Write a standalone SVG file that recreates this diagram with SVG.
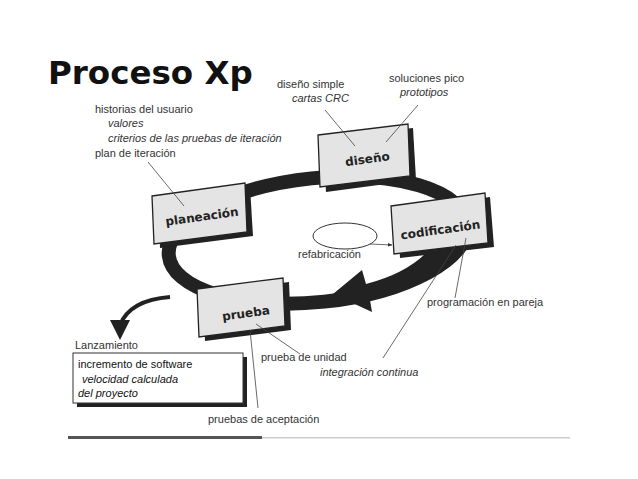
<svg xmlns="http://www.w3.org/2000/svg" width="638" height="479" viewBox="0 0 638 479">
<style>
.t{font-family:"Liberation Sans",Arial,sans-serif;font-size:11px;fill:#333}
.i{font-style:italic}
.n{font-family:"DejaVu Sans",sans-serif;font-size:12px;font-weight:bold;fill:#222}
.box{fill:#e4e4e4;stroke:#222;stroke-width:1.3}
.sh{fill:#222}
.ld{stroke:#444;stroke-width:0.8;fill:none}
</style>
<defs><marker id="a" viewBox="0 0 10 10" refX="9" refY="5" markerWidth="6" markerHeight="6" orient="auto"><path d="M0,1 L10,5 L0,9 z" fill="#333"/></marker></defs>
<rect width="638" height="479" fill="#fff"/>
<text x="48" y="84" style="font-family:'DejaVu Sans',sans-serif;font-size:32.5px;font-weight:bold;fill:#111">Proceso Xp</text>
<g id="cycle">
<ellipse cx="318" cy="240" rx="150" ry="62" fill="none" stroke="#222" stroke-width="14" transform="rotate(-6 318 240)"/>
<path d="M465,240 Q440,280 370,300 L372,312 L333,294 L362,270 L366,284 Q420,270 440,235 Z" fill="#222"/>
<path d="M170,297 Q130,300 120,325" fill="none" stroke="#222" stroke-width="4"/>
<path d="M110,320 L130,320 L120,340 Z" fill="#222"/>
<ellipse cx="345" cy="236" rx="32" ry="13" fill="none" stroke="#333" stroke-width="1"/>
<path d="M370,244 L392,245" class="ld" marker-end="url(#a)"/>
</g>
<g id="diseno"><path class="sh" d="M323,138 L413,128 L416,180 L326,192 Z"/><path class="box" d="M318,135 L408,124 L410,176 L320,187 Z"/><text class="n" x="345" y="164" transform="rotate(-8 362 160)">diseño</text></g>
<g id="planeacion"><path class="sh" d="M158,200 L250,187 L253,236 L160,248 Z"/><path class="box" d="M152,196 L245,183 L247,232 L154,244 Z"/><text class="n" x="165" y="221" transform="rotate(-8 200 216)">planeación</text></g>
<g id="codificacion"><path class="sh" d="M397,210 L490,197 L494,247 L400,258 Z"/><path class="box" d="M391,206 L485,193 L488,243 L394,254 Z"/><text class="n" x="400" y="234" transform="rotate(-8 440 228)">codificación</text></g>
<g id="prueba"><path class="sh" d="M203,293 L289,282 L291,330 L205,341 Z"/><path class="box" d="M197,289 L283,278 L285,326 L199,337 Z"/><text class="n" x="222" y="318" transform="rotate(-8 242 314)">prueba</text></g>
<g id="lanzamiento"><rect x="77" y="357" width="170" height="50" class="sh"/><rect x="73" y="353" width="170" height="50" fill="#fff" stroke="#333" stroke-width="1"/>
<text class="t" x="75" y="349">Lanzamiento</text>
<text class="t" x="78" y="368" style="fill:#111">incremento de software</text>
<text class="t i" x="82" y="383" style="fill:#111">velocidad calculada</text>
<text class="t i" x="78" y="397" style="fill:#111">del proyecto</text></g>
<g id="connectors">
<path class="ld" d="M325,110 L355,146"/>
<path class="ld" d="M418,105 L386,142"/>
<path class="ld" d="M148,162 L184,206"/>
<path class="ld" d="M455,298 L466,238"/>
<path class="ld" d="M383,358 L456,245"/>
<path class="ld" d="M300,354 L256,324"/>
<path class="ld" d="M258,408 L250,330"/>
</g>
<text class="t" x="277" y="88">diseño simple</text>
<text class="t i" x="292" y="102">cartas CRC</text>
<text class="t" x="389" y="82">soluciones pico</text>
<text class="t i" x="400" y="96">prototipos</text>
<text class="t" x="95" y="113">historias del usuario</text>
<text class="t i" x="108" y="127">valores</text>
<text class="t i" x="108" y="142">criterios de las pruebas de iteración</text>
<text class="t" x="95" y="157">plan de iteración</text>
<text class="t" x="298" y="258">refabricación</text>
<text class="t" x="427" y="306">programación en pareja</text>
<text class="t" x="261" y="361">prueba de unidad</text>
<text class="t i" x="320" y="376">integración continua</text>
<text class="t" x="208" y="423">pruebas de aceptación</text>
<rect x="68" y="436" width="194" height="3" fill="#555"/>
<rect x="262" y="437" width="308" height="1.5" fill="#ccc"/>
</svg>
